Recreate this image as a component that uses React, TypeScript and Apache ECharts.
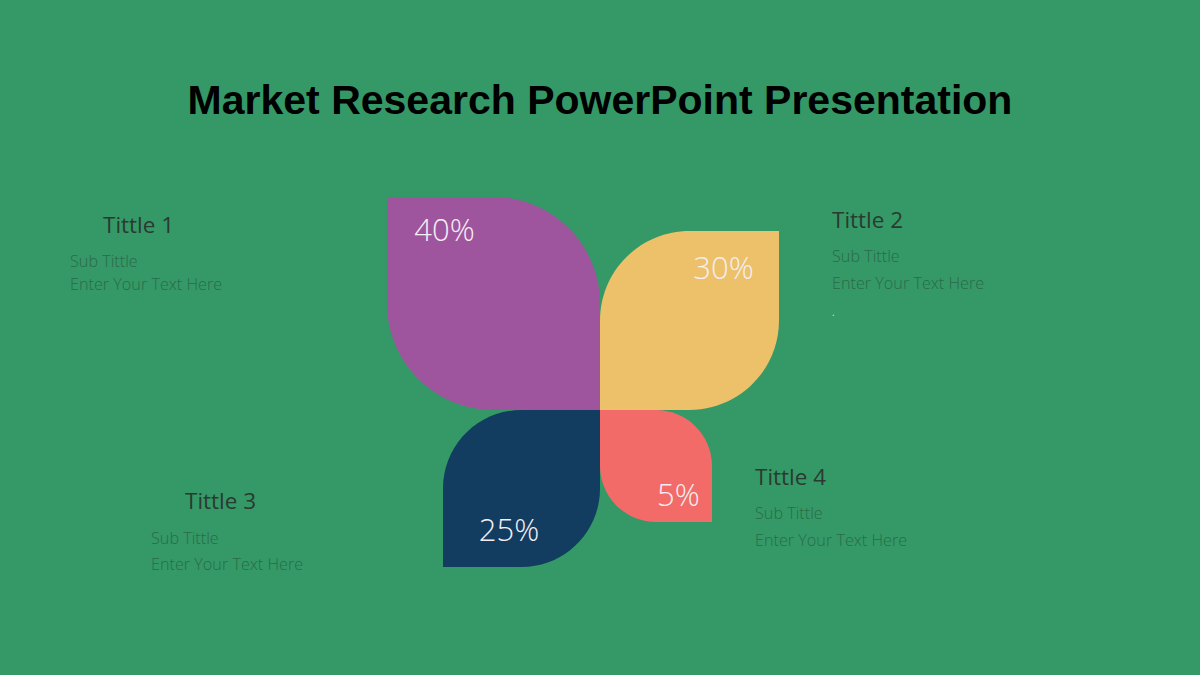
import React, { useEffect, useRef } from "react";
import * as echarts from "echarts";

// ---- data ----
const categories = ["Tittle 1", "Tittle 2", "Tittle 3", "Tittle 4"];
const shares = [40, 30, 25, 5];
const shareLabels = ["40%", "30%", "25%", "5%"];
// petal reach in axis units (visual magnitude)
const petalReach = [213, 179, 157, 112];
// quadrant direction of each petal
const dirX = [-1, 1, -1, 1];
const dirY = [1, 1, -1, -1];
const subTitles = ["Sub Tittle", "Sub Tittle", "Sub Tittle", "Sub Tittle"];
const bodyTexts = ["Enter Your Text Here", "Enter Your Text Here", "Enter Your Text Here", "Enter Your Text Here"];
const mainTitle = "Market Research PowerPoint Presentation";

// ---- styles / layout ----
const petalColors = ["#9E559E", "#EDC06A", "#123C60", "#F26B69"];
const labelSpots = [
  [0.73, 0.85],
  [0.69, 0.8],
  [0.58, 0.76],
  [0.7, 0.75],
];
const textBlocks = [
  { tx: 103, ty: 224, sx: 70, sy: 261, bx: 70, by: 284 },
  { tx: 832, ty: 219, sx: 832, sy: 256, bx: 832, by: 283 },
  { tx: 185, ty: 500, sx: 151, sy: 538, bx: 151, by: 564 },
  { tx: 755, ty: 476, sx: 755, sy: 513, bx: 755, by: 540 },
];

export default function App() {
  const ref = useRef<HTMLDivElement>(null);
  useEffect(() => {
    document.body.style.margin = "0";
    const chart = echarts.init(ref.current!, null, { renderer: "svg" });
    const data = shares.map((v, i) => [dirX[i], dirY[i], petalReach[i], v, i]);
    const graphics: any[] = [
      {
        type: "text",
        style: {
          text: mainTitle,
          x: 600,
          y: 100,
          textAlign: "center",
          textVerticalAlign: "middle",
          fill: "#000000",
          fontFamily: "Liberation Sans, Arial, sans-serif",
          fontWeight: "bold",
          fontSize: 41,
        },
      },
      {
        type: "text",
        style: {
          text: ".",
          x: 832,
          y: 312,
          textVerticalAlign: "middle",
          fill: "#cfe6da",
          fontFamily: "Open Sans, sans-serif",
          fontSize: 10,
        },
      },
    ];
    textBlocks.forEach((b, i) => {
      graphics.push(
        {
          type: "text",
          style: {
            text: categories[i],
            x: b.tx,
            y: b.ty,
            textVerticalAlign: "middle",
            fill: "#2a3a31",
            fontFamily: "Open Sans, sans-serif",
            fontWeight: 500,
            fontSize: 22.5,
          },
        },
        {
          type: "text",
          style: {
            text: subTitles[i],
            x: b.sx,
            y: b.sy,
            textVerticalAlign: "middle",
            fill: "#2a6b48",
            fontFamily: "Open Sans, sans-serif",
            fontWeight: 300,
            fontSize: 16.2,
          },
        },
        {
          type: "text",
          style: {
            text: bodyTexts[i],
            x: b.bx,
            y: b.by,
            textVerticalAlign: "middle",
            fill: "#2a6b48",
            fontFamily: "Open Sans, sans-serif",
            fontWeight: 300,
            fontSize: 16.2,
          },
        }
      );
    });

    chart.setOption({
      animation: false,
      backgroundColor: "#349966",
      grid: { left: 0, right: 0, top: 0, bottom: 0 },
      xAxis: { type: "value", min: -600, max: 600, show: false },
      yAxis: { type: "value", min: -265, max: 410, show: false },
      graphic: graphics,
      series: [
        {
          type: "custom",
          coordinateSystem: "cartesian2d",
          data,
          renderItem: (params: any, api: any) => {
            const sx = api.value(0);
            const sy = api.value(1);
            const reach = api.value(2);
            const idx = api.value(4);
            const c = api.coord([0, 0]);
            const o = api.coord([sx * reach, sy * reach]);
            const a = [o[0], c[1]];
            const b = [c[0], o[1]];
            const k = 0.5523;
            const lerp = (p: number[], q: number[], t: number) => [
              p[0] + (q[0] - p[0]) * t,
              p[1] + (q[1] - p[1]) * t,
            ];
            const a1 = lerp(c, a, 0.5);
            const a2 = lerp(a, o, 0.5);
            const b1 = lerp(o, b, 0.5);
            const b2 = lerp(b, c, 0.5);
            const ca1 = lerp(a1, a, k);
            const ca2 = lerp(a2, a, k);
            const cb1 = lerp(b1, b, k);
            const cb2 = lerp(b2, b, k);
            const f = (p: number[]) => `${p[0]} ${p[1]}`;
            const d = `M ${f(c)} L ${f(a1)} C ${f(ca1)} ${f(ca2)} ${f(a2)} L ${f(o)} L ${f(b1)} C ${f(cb1)} ${f(cb2)} ${f(b2)} Z`;
            const spot = labelSpots[idx];
            const lp = [c[0] + (o[0] - c[0]) * spot[0], c[1] + (o[1] - c[1]) * spot[1]];
            return {
              type: "group",
              children: [
                {
                  type: "path",
                  shape: { pathData: d },
                  style: { fill: petalColors[idx] },
                },
                {
                  type: "text",
                  x: lp[0],
                  y: lp[1],
                  style: {
                    text: shareLabels[idx],
                    textAlign: "center",
                    textVerticalAlign: "middle",
                    fill: "#F4EEF2",
                    fontFamily: "Open Sans, sans-serif",
                    fontWeight: 300,
                    fontSize: 31,
                  },
                },
              ],
            };
          },
        },
      ],
    });
    return () => chart.dispose();
  }, []);
  return <div ref={ref} style={{ width: 1200, height: 675 }} />;
}
